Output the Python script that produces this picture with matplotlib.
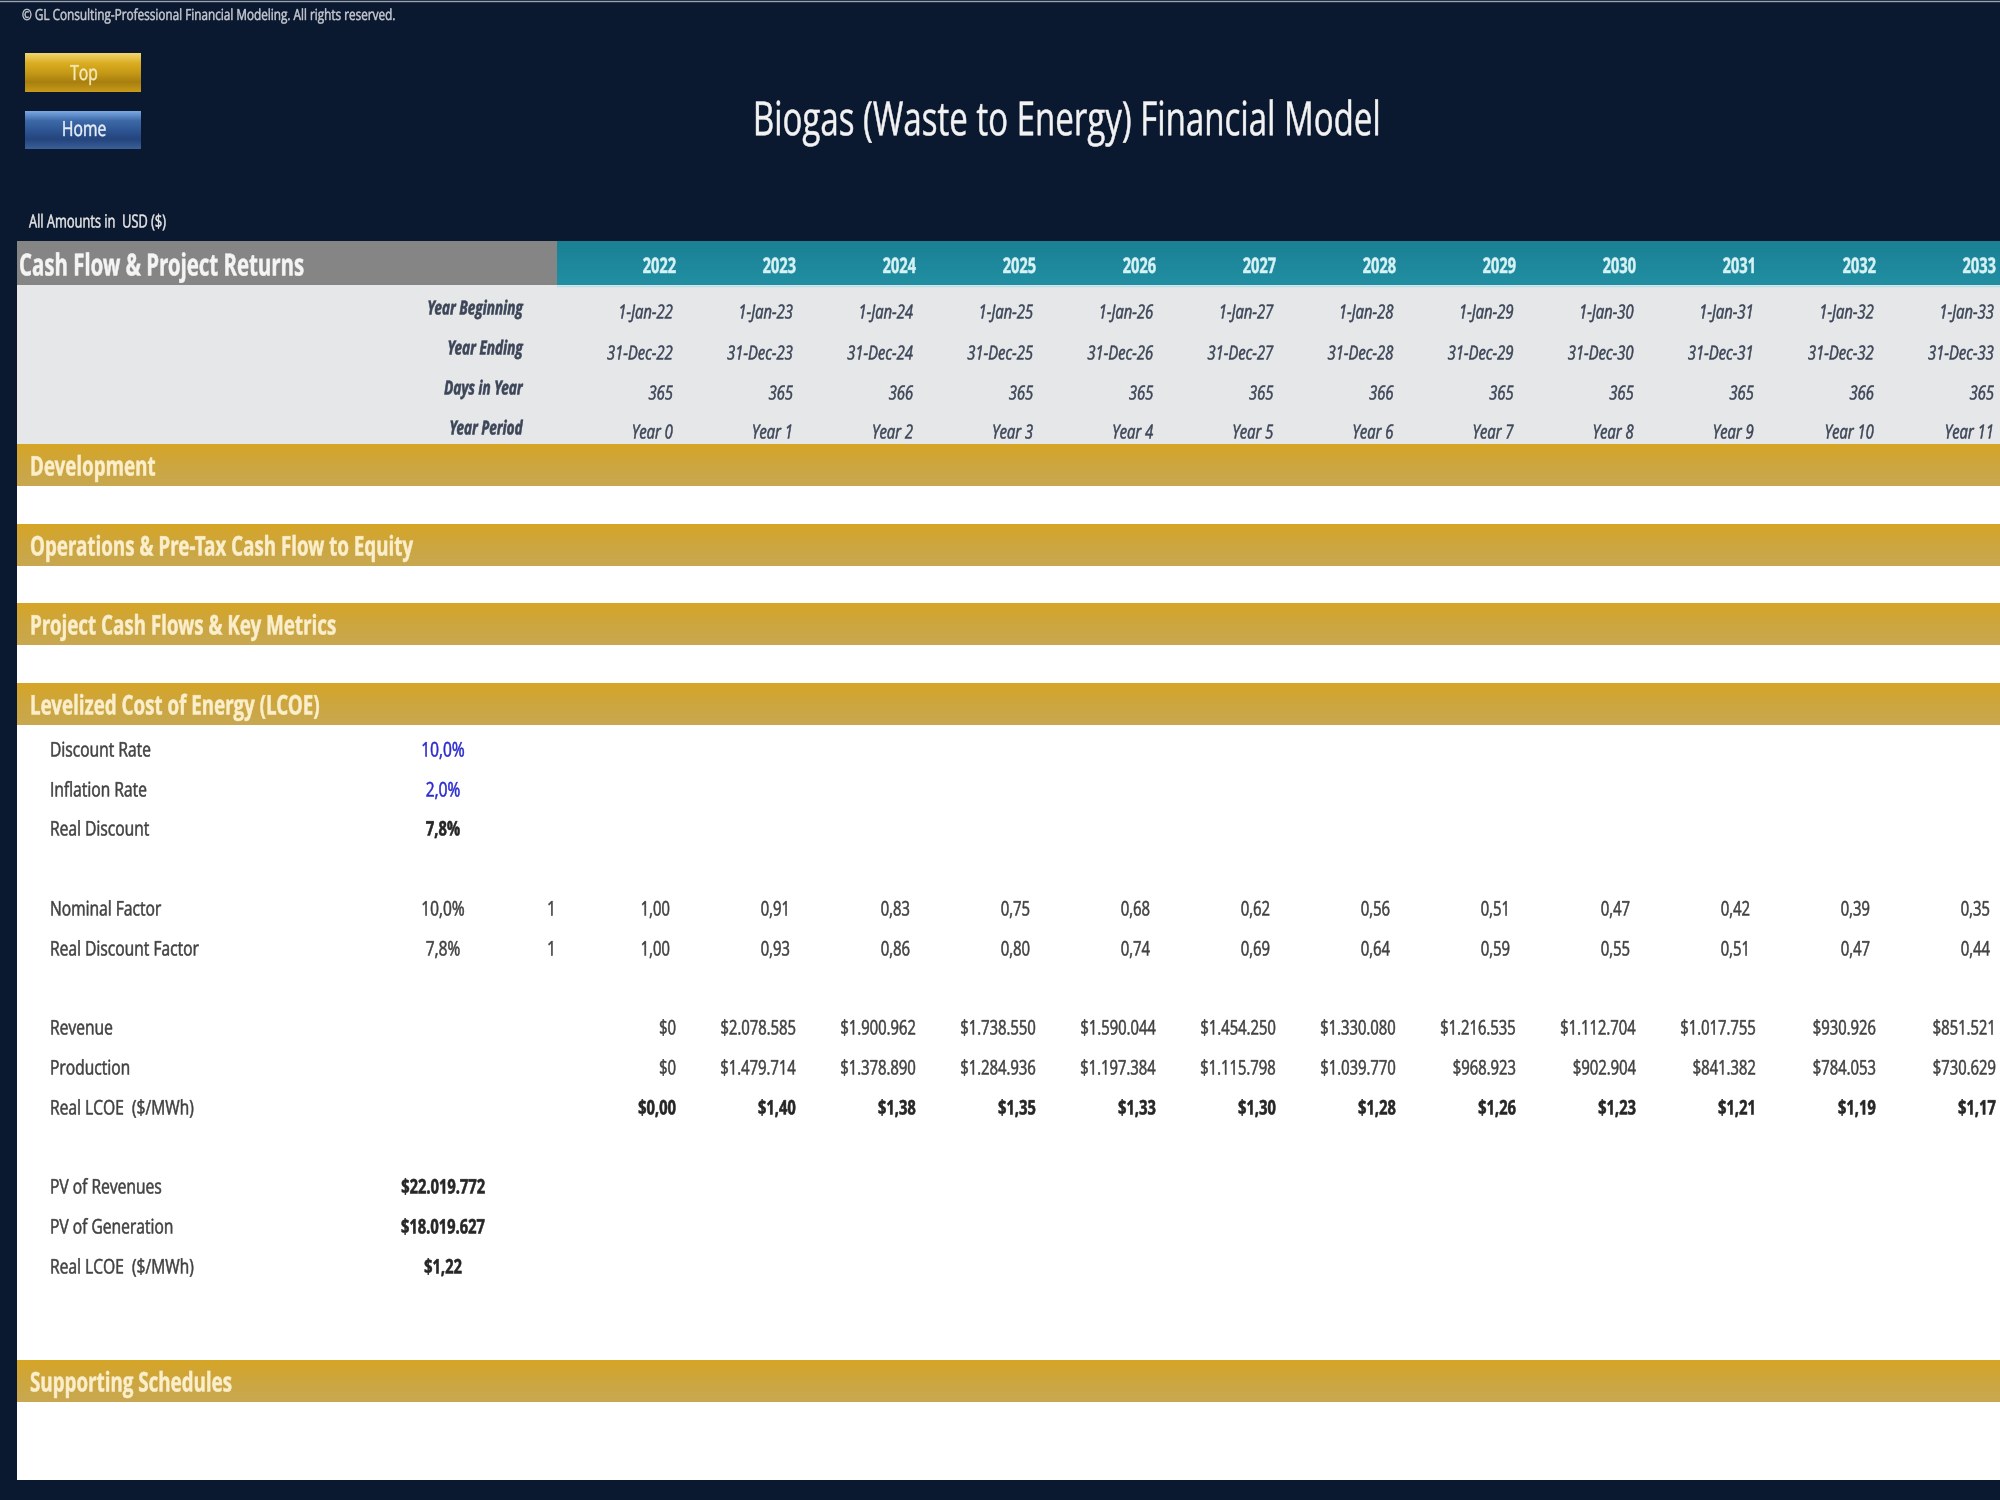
import numpy as np
import matplotlib
matplotlib.use("Agg")
import matplotlib.pyplot as plt
from matplotlib.colors import LinearSegmentedColormap
from matplotlib.patheffects import AbstractPathEffect
from matplotlib.transforms import Affine2D

anos = [2022, 2023, 2024, 2025, 2026, 2027, 2028, 2029, 2030, 2031, 2032, 2033]
dias_ano = [365, 365, 366, 365, 365, 365, 366, 365, 365, 365, 366, 365]
periodos = ["Year 0", "Year 1", "Year 2", "Year 3", "Year 4", "Year 5", "Year 6",
            "Year 7", "Year 8", "Year 9", "Year 10", "Year 11"]
fator_nominal = [1.00, 0.91, 0.83, 0.75, 0.68, 0.62, 0.56, 0.51, 0.47, 0.42, 0.39, 0.35]
fator_real = [1.00, 0.93, 0.86, 0.80, 0.74, 0.69, 0.64, 0.59, 0.55, 0.51, 0.47, 0.44]
receita = [0, 2078585, 1900962, 1738550, 1590044, 1454250, 1330080, 1216535,
           1112704, 1017755, 930926, 851521]
producao = [0, 1479714, 1378890, 1284936, 1197384, 1115798, 1039770, 968923,
            902904, 841382, 784053, 730629]
lcoe_real = [0.00, 1.40, 1.38, 1.35, 1.33, 1.30, 1.28, 1.26, 1.23, 1.21, 1.19, 1.17]
taxa_desconto = 10.0
taxa_inflacao = 2.0
desconto_real = 7.8
pv_receitas = 22019772
pv_geracao = 18019627
lcoe_total = 1.22
secoes = ["Development", "Operations & Pre-Tax Cash Flow to Equity",
          "Project Cash Flows & Key Metrics", "Levelized Cost of Energy (LCOE)",
          "Supporting Schedules"]

plt.rcParams["font.family"] = ["Open Sans", "DejaVu Sans"]

FUNDO = "#0a1830"
TEXTO = "#414141"
NAVY = "#3c4658"
BOLD = "#262626"


class Comprime(AbstractPathEffect):
    # estreita o texto em x e engrossa um pouco, a fonte da planilha e condensada
    def __init__(self, fator, ancora):
        super().__init__()
        self.fator = fator
        self.ancora = ancora

    def draw_path(self, renderer, gc, tpath, affine, rgbFace=None):
        t = affine + Affine2D().translate(-self.ancora, 0).scale(self.fator, 1).translate(self.ancora, 0)
        gc0 = renderer.new_gc()
        gc0.copy_properties(gc)
        gc0.set_foreground(rgbFace)
        gc0.set_linewidth(0.35)
        renderer.draw_path(gc0, tpath, t, rgbFace)
        gc0.restore()


def moeda(v):
    return "$" + f"{v:,.0f}".replace(",", ".")


def dec(v, casas=2):
    return f"{v:.{casas}f}".replace(".", ",")


def gradiente(ax, x0, x1, y0, y1, cores):
    cmap = LinearSegmentedColormap.from_list("g", cores)
    ax.imshow(np.linspace(0, 1, 64).reshape(-1, 1), cmap=cmap, aspect="auto",
              extent=(x0, x1, y1, y0), zorder=1, interpolation="bilinear")


def escreve(x, y, s, tam, fator, cor=TEXTO, ha="left", **kw):
    # figura em 100 dpi com eixo 0-2000, entao x de dados = pixel
    ax.text(x, y + 2.5, s, color=cor, fontsize=tam, ha=ha, va="center", zorder=3,
            path_effects=[Comprime(fator, x)], **kw)


fig = plt.figure(figsize=(20, 15), dpi=100, facecolor=FUNDO)
ax = fig.add_axes([0, 0, 1, 1])
ax.set_facecolor(FUNDO)

# corpo branco e paineis
ax.fill_between([17, 2000], 285, 1480, color="white", lw=0, zorder=0.5)
ax.fill_between([17, 2000], 285, 444, color="#e6e7e9", lw=0, zorder=1)
ax.fill_between([17, 557], 241, 285, color="#858585", lw=0, zorder=1)
gradiente(ax, 557, 2000, 241, 285, ["#1b8094", "#218fa3"])
ax.plot([557, 2000], [285.5, 285.5], color="#b5e0e8", lw=1, zorder=2)
ax.plot([0, 2000], [0.5, 0.5], color="#9aa3b2", lw=1, zorder=2)

# botoes
gradiente(ax, 25, 141, 53, 92, ["#efd670", "#dcae22", "#c79a16", "#a87f10", "#c89a18"])
gradiente(ax, 25, 141, 111, 149, ["#7aa8e2", "#3d69a8", "#2f5694", "#24447c", "#3a5f98"])
escreve(84, 72, "Top", 15, 0.75, cor="#f6e9b5", ha="center")
escreve(84, 128, "Home", 15, 0.755, cor="#e8eef8", ha="center")

# cabecalho
escreve(22, 14, "© GL Consulting-Professional Financial Modeling. All rights reserved.",
        11, 0.77, cor="#c4c8d0")
escreve(1067, 120, "Biogas (Waste to Energy) Financial Model", 34, 0.70, cor="#f2f2f2", ha="center")
escreve(29, 220, "All Amounts in  USD ($)", 13, 0.71, cor="#e6e6e6")
escreve(19, 265, "Cash Flow & Project Returns", 22, 0.668, cor="#f4f4f4", fontweight="bold")

# faixas douradas das secoes
faixas_y = [444, 524, 603, 683, 1360]
for topo, nome in zip(faixas_y, secoes):
    gradiente(ax, 17, 2000, topo, topo + 42, ["#d6a526", "#cda63f", "#c8a850"])
    escreve(30, topo + 22, nome, 19.5, 0.693, cor="#fbeecb", fontweight="bold")

# rotulos das linhas de datas
for y, rot in zip([307, 347, 387, 427], ["Year Beginning", "Year Ending", "Days in Year", "Year Period"]):
    escreve(523, y, rot, 14, 0.70, cor=NAVY, ha="right", style="italic", fontweight="bold")

# colunas por ano
for i, ano in enumerate(anos):
    yy = ano % 100
    escreve(676 + 120.0 * i, 265, str(ano), 15.5, 0.68, cor="#d6f2f4", ha="right", fontweight="bold")
    xd = 673 + 120.1 * i
    escreve(xd, 311, f"1-Jan-{yy}", 14, 0.76, cor=NAVY, ha="right", style="italic")
    escreve(xd, 352, f"31-Dec-{yy}", 14, 0.76, cor=NAVY, ha="right", style="italic")
    escreve(xd, 392, str(dias_ano[i]), 14, 0.76, cor=NAVY, ha="right", style="italic")
    escreve(xd, 431, periodos[i], 14, 0.76, cor=NAVY, ha="right", style="italic")

    xf = 670 + 120.0 * i
    escreve(xf, 908, dec(fator_nominal[i]), 14.5, 0.735, ha="right")
    escreve(xf, 948, dec(fator_real[i]), 14.5, 0.735, ha="right")
    xv = 676 + 120.0 * i
    escreve(xv, 1027, moeda(receita[i]), 14.5, 0.735, ha="right")
    escreve(xv, 1067, moeda(producao[i]), 14.5, 0.735, ha="right")
    escreve(xv, 1107, "$" + dec(lcoe_real[i]), 14.5, 0.73, cor=BOLD, ha="right", fontweight="bold")

# bloco LCOE, coluna esquerda
linhas = [(749, "Discount Rate"), (789, "Inflation Rate"), (828, "Real Discount"),
          (908, "Nominal Factor"), (948, "Real Discount Factor"), (1027, "Revenue"),
          (1067, "Production"), (1107, "Real LCOE  ($/MWh)"), (1186, "PV of Revenues"),
          (1226, "PV of Generation"), (1266, "Real LCOE  ($/MWh)")]
for y, rot in linhas:
    escreve(50, y, rot, 14.5, 0.775)

XC = 443
escreve(XC, 749, dec(taxa_desconto, 1) + "%", 14.5, 0.77, cor="#2a2ad0", ha="center")
escreve(XC, 789, dec(taxa_inflacao, 1) + "%", 14.5, 0.77, cor="#2a2ad0", ha="center")
escreve(XC, 828, dec(desconto_real, 1) + "%", 14.5, 0.73, cor=BOLD, ha="center", fontweight="bold")
escreve(XC, 908, dec(taxa_desconto, 1) + "%", 14.5, 0.77, ha="center")
escreve(XC, 948, dec(desconto_real, 1) + "%", 14.5, 0.77, ha="center")
escreve(556, 908, "1", 14.5, 0.77, ha="right")
escreve(556, 948, "1", 14.5, 0.77, ha="right")
escreve(XC, 1186, moeda(pv_receitas), 14.5, 0.73, cor=BOLD, ha="center", fontweight="bold")
escreve(XC, 1226, moeda(pv_geracao), 14.5, 0.73, cor=BOLD, ha="center", fontweight="bold")
escreve(XC, 1266, "$" + dec(lcoe_total), 14.5, 0.73, cor=BOLD, ha="center", fontweight="bold")

ax.set_xlim(0, 2000)
ax.set_ylim(1500, 0)
ax.axis("off")
fig.savefig("out.png", dpi=100, facecolor=FUNDO)
